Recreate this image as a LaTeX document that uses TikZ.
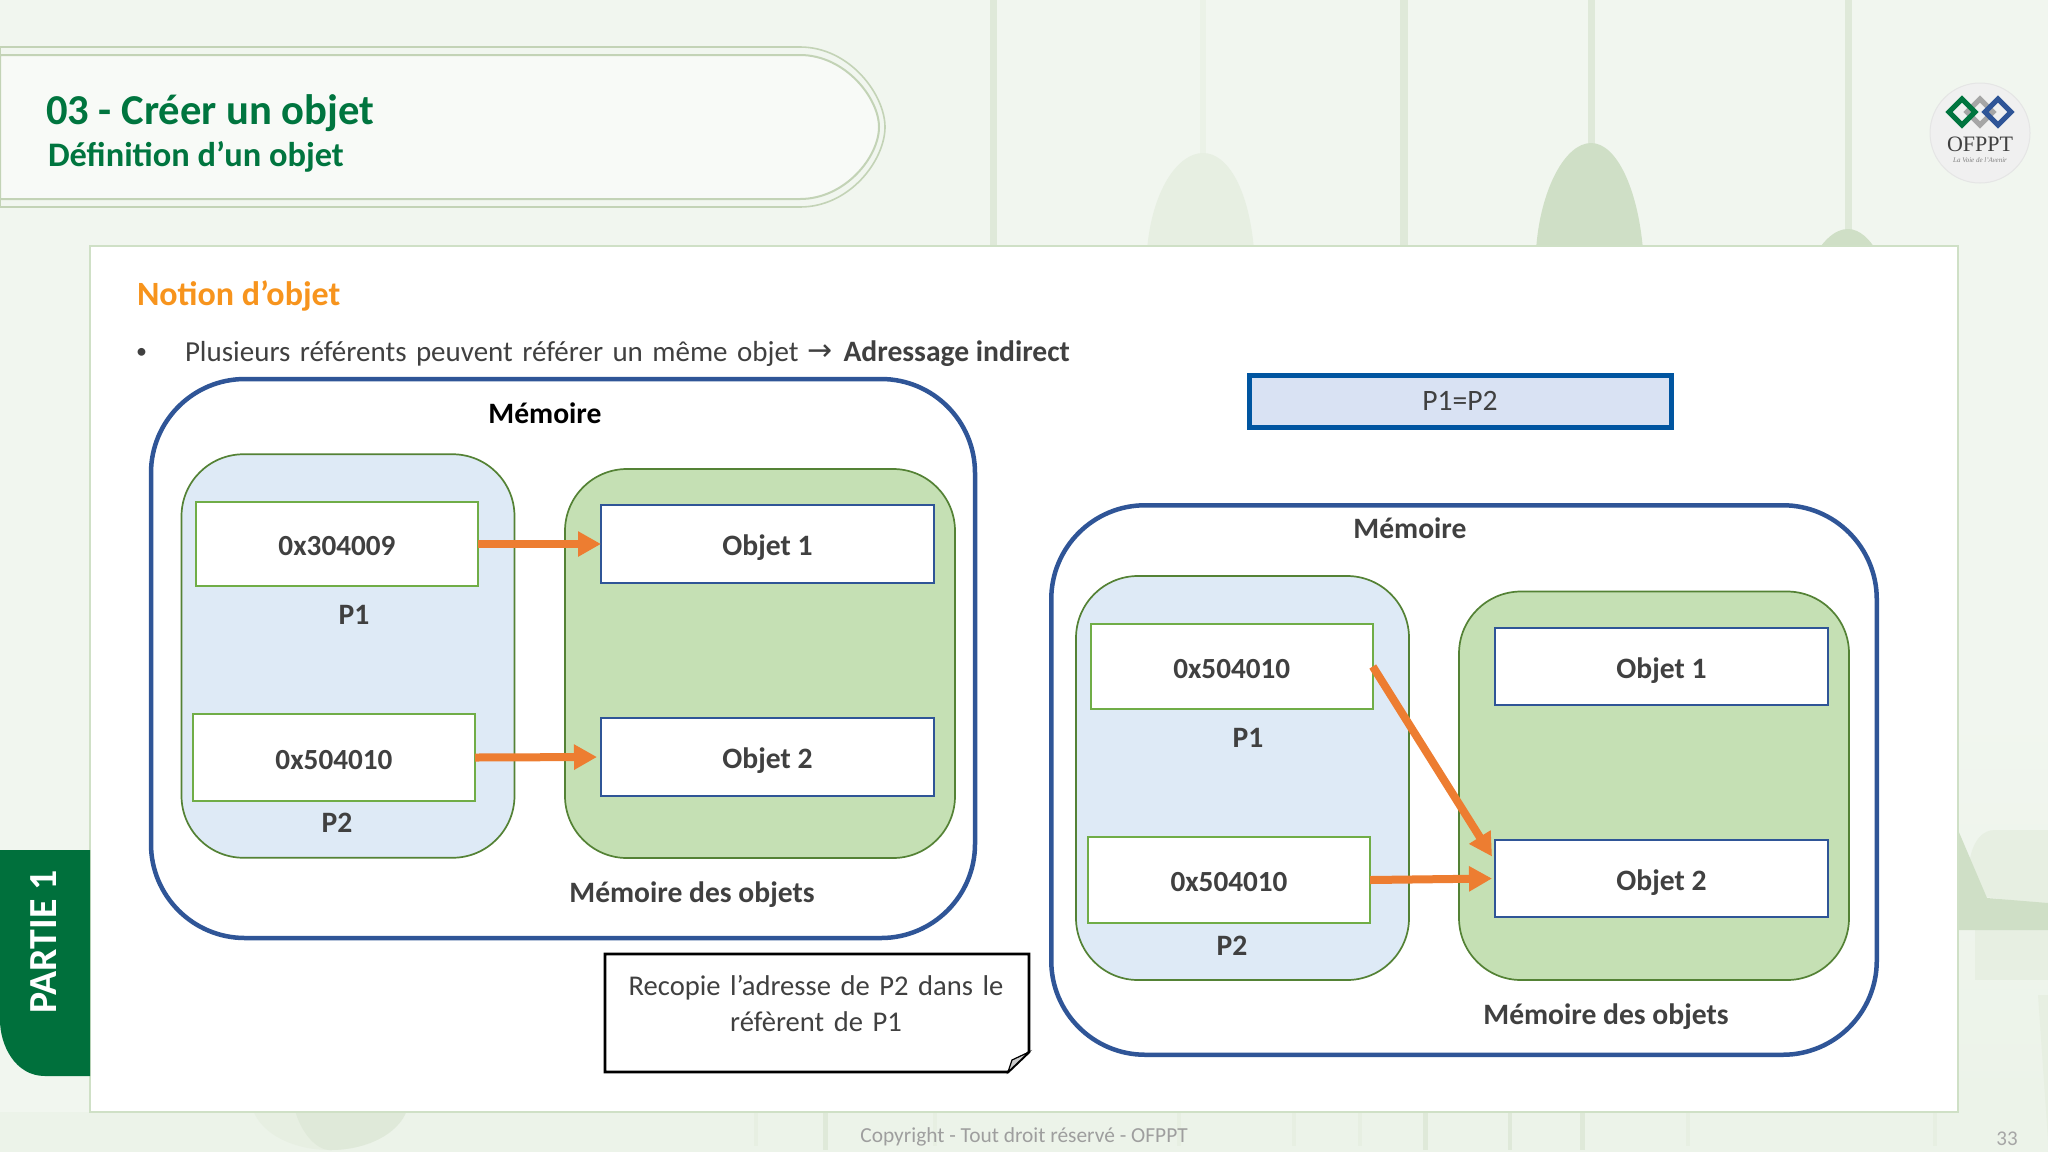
\documentclass[tikz,border=0pt]{standalone}
\usepackage{fontspec}
\setmainfont{Carlito}
\newfontfamily\logofont{Liberation Serif}
\newfontfamily\symfont{DejaVu Sans}
\usetikzlibrary{arrows.meta,shapes.geometric}
\definecolor{bgpage}{HTML}{F1F6EF}
\definecolor{decoA}{HTML}{DFE9D9}
\definecolor{decoB}{HTML}{CFDFC6}
\definecolor{decoC}{HTML}{E7EFE2}
\definecolor{decoD}{HTML}{ECF3E9}
\definecolor{panelline}{HTML}{CFE0C6}
\definecolor{bannerline}{HTML}{C3D3B6}
\definecolor{bannerfill}{HTML}{F8FAF7}
\definecolor{ofgreen}{HTML}{00753F}
\definecolor{ofgreenb}{HTML}{00703C}
\definecolor{ofblue}{HTML}{2F5597}
\definecolor{boxgreen}{HTML}{548235}
\definecolor{lightgreen}{HTML}{70AD47}
\definecolor{fillblue}{HTML}{DEEAF6}
\definecolor{fillgreen}{HTML}{C5E0B4}
\definecolor{txt}{HTML}{404040}
\definecolor{arrowor}{HTML}{ED7D31}
\definecolor{titleor}{HTML}{F7941D}
\definecolor{eqfill}{HTML}{D9E2F3}
\definecolor{eqline}{HTML}{0055A0}
\newcommand{\px}[1]{\fontsize{#1}{#1}\selectfont}
\tikzset{
  every node/.style={inner sep=0pt,outer sep=0pt,text=txt},
  memoire/.style={draw=ofblue,line width=2.25pt,fill=white,rounded corners=47pt,rectangle},
  zoneblue/.style={draw=boxgreen,line width=0.85pt,fill=fillblue,rounded corners=31pt,rectangle},
  zonegreen/.style={draw=boxgreen,line width=0.85pt,fill=fillgreen,rounded corners=31pt,rectangle},
  refbox/.style={draw=lightgreen,line width=0.9pt,fill=white,rectangle,minimum width=141pt,text height=11.5pt,text depth=0pt,font=\px{14.6}\bfseries},
  objbox/.style={draw=ofblue,line width=0.9pt,fill=white,rectangle,minimum width=166.5pt,text height=11.5pt,text depth=0pt,font=\px{14.8}\bfseries},
  lab/.style={font=\px{14.8}\bfseries},
  fleche/.style={draw=arrowor,line width=4pt,-{Triangle[width=12pt,length=11.5pt]}},
}
\begin{document}
\begin{tikzpicture}[x=0.5pt,y=-0.5pt]
\useasboundingbox (0,0) rectangle (2048,1152);
\fill[bgpage] (0,0) rectangle (2048,1152);
% background decoration
\fill[decoA] (990,0) rectangle (997,250);
\fill[decoA] (1400,0) rectangle (1408,250);
\fill[decoC!60!bgpage] (1200,0) rectangle (1206,200);
\fill[decoA] (1587.5,0) rectangle (1594.5,150);
\fill[decoA] (1845,0) rectangle (1852,235);
\fill[decoC] (1147,250) .. controls (1152,190) and (1178,153) .. (1203,153) .. controls (1228,153) and (1249,190) .. (1254,250) -- cycle;
\fill[decoB] (1536,250) .. controls (1540,190) and (1565,143) .. (1591,143) .. controls (1617,143) and (1638,190) .. (1643,250) -- cycle;
\fill[decoB] (1818,250) .. controls (1825,240) and (1835,229) .. (1848,229) .. controls (1860,229) and (1870,240) .. (1876,250) -- cycle;
\fill[decoD] (0,1112) rectangle (2048,1152);
\shade[top color=bgpage,bottom color=decoD] (1958,700) rectangle (2048,1112);
\fill[decoC] (253,1110) .. controls (262,1135) and (295,1150) .. (330,1150) .. controls (365,1150) and (398,1135) .. (407,1110) -- cycle;
\fill[decoA] (295,1110) .. controls (300,1130) and (315,1150) .. (330,1150) .. controls (365,1150) and (398,1135) .. (407,1110) -- cycle;
\foreach \xa/\xb in {754/758,933/937,1177/1181,1292/1296,1358/1362,1686/1690,1933/1937}{
  \fill[decoC] (\xa,1110) rectangle (\xb,1146);
}
\foreach \xa/\xb in {823/828,1423/1428,1508/1512,1580/1585}{
  \fill[decoA] (\xa,1110) rectangle (\xb,1150);
}
\fill[decoC] (1975,930) rectangle (2048,980);
\fill[decoC] (1970,895) .. controls (1965,870) and (1970,830) .. (1995,830) -- (2048,830) -- (2048,905) -- cycle;
\fill[decoB] (1958,830) -- (1987,898) -- (2048,903) -- (2048,930) -- (1958,930) -- cycle;
\fill[decoC] (2038,995) -- (2048,995) -- (2048,1140) -- cycle;
% banner
\path[draw=bannerline,line width=0.8pt,fill=bgpage] (0,47) -- (800,47) .. controls (850,47) and (885,95) .. (885,127) .. controls (885,160) and (850,207) .. (800,207) -- (0,207) -- cycle;
\path[draw=bannerline,line width=1pt,fill=bannerfill] (0,55) -- (800,55) .. controls (845,55) and (879,98) .. (879,127) .. controls (879,157) and (845,199) .. (800,199) -- (0,199) -- cycle;
\node[anchor=base west,text=ofgreen,font=\px{21.3}\bfseries] (titre) at (46,124) {03 - Créer un objet};
\node[anchor=base west,text=ofgreen,font=\px{17.2}\bfseries] (soustitre) at (48,166) {Définition d’un objet};
% logo
\fill[white!88!gray] (1980,133) circle (50);
\draw[white!80!gray,line width=0.5pt] (1980,133) circle (50);
\foreach \cx/\cc in {1980/gray!70,1962/ofgreen,1998/ofblue}{
  \draw[\cc,line width=2.6pt] (\cx-13,112) -- (\cx,99) -- (\cx+13,112) -- (\cx,125) -- cycle;
}
\node[text=black!75,font=\logofont\px{11}] (logotxt) at (1980,144) {OFPPT};
\node[text=gray,font=\logofont\itshape\px{3.5}] (logosub) at (1980,160) {La Voie de l’Avenir};
% panel
\draw[panelline,line width=0.9pt,fill=white] (90,246) rectangle (1958,1112);
% partie tab
\path[fill=ofgreenb] (0,850) -- (90,850) -- (90,1076) -- (45,1076) .. controls (15,1076) and (0,1045) .. (0,1020) -- cycle;
\node[rotate=90,text=white,font=\px{19.9}\bfseries] (partie) at (44,942) {PARTIE 1};
% headings
\node[anchor=base west,text=titleor,font=\px{17}\bfseries] (notion) at (137,305) {Notion d’objet};
\node[anchor=base west,font=\px{11}] (bullet) at (136,358) {•};
\node[anchor=base west,font=\px{14.5}] (phrase) at (185,361) {\spaceskip=1.44\fontdimen2\font\relax Plusieurs référents peuvent référer un même objet};
\node[anchor=base west,font=\symfont\px{15}] (fl) at (807,360) {→};
\node[anchor=base east,font=\px{14.8}\bfseries] (adr) at (1070,361) {Adressage indirect};
% left diagram
\node[memoire,minimum width=412pt,minimum height=279.5pt] (memL) at (563,658.5) {};
\node[zoneblue,minimum width=166.5pt,minimum height=201.75pt] (refL) at (348,656) {};
\node[zonegreen,minimum width=195pt,minimum height=194.5pt] (objL) at (760,663.5) {};
\node[refbox,minimum height=42.25pt] (p1L) at (337,544) {0x304009};
\node[refbox,minimum height=43.5pt] (p2L) at (334,757.5) {0x504010};
\node[objbox,minimum height=38.75pt] (o1L) at (767.5,544) {Objet 1};
\node[objbox,minimum height=39pt] (o2L) at (767.5,757) {Objet 2};
\node[lab,text=black] (memTL) at (545,413) {Mémoire};
\node[lab] (lp1L) at (354,615) {P1};
\node[lab] (lp2L) at (337,823) {P2};
\node[lab] (lmoL) at (692,895) {Mémoire des objets};
\draw[fleche] (p1L.east) -- (o1L.west);
\draw[fleche] (p2L.east) -- ([xshift=-2pt]o2L.west);
% equal box
\node[draw=eqline,line width=2.5pt,fill=eqfill,rectangle,minimum width=211pt,minimum height=26pt,font=\px{14.8}] (egal) at (1460,401) {P1=P2};
% note
\path[draw=black,line width=1.3pt,fill=white] (605,954) -- (1029,954) -- (1029,1052) -- (1008,1072) -- (605,1072) -- cycle;
\path[draw=black,line width=0.6pt,fill=black!20] (1029,1052) -- (1012,1060) -- (1008,1072) -- cycle;
\node[font=\px{14.3},align=center,text width=210pt] (note) at (816,1004) {Recopie l’adresse de P2 dans le\\[3.7pt]réfèrent de P1};
% right diagram
\node[memoire,minimum width=412.75pt,minimum height=274.75pt] (memR) at (1464,780) {};
\node[zoneblue,minimum width=166.5pt,minimum height=202pt] (refR) at (1242.5,778) {};
\node[zonegreen,minimum width=195pt,minimum height=194.25pt] (objR) at (1654,785.75) {};
\node[refbox,minimum height=42.5pt] (p1R) at (1231.75,666.5) {0x504010};
\node[refbox,minimum height=43pt] (p2R) at (1229,880) {0x504010};
\node[objbox,minimum height=38.5pt] (o1R) at (1661.5,666.5) {Objet 1};
\node[objbox,minimum height=38.5pt] (o2R) at (1661.5,878.5) {Objet 2};
\node[lab] (memTR) at (1410,528) {Mémoire};
\node[lab] (lp1R) at (1248,738) {P1};
\node[lab] (lp2R) at (1232,946) {P2};
\node[lab] (lmoR) at (1606,1017) {Mémoire des objets};
\draw[fleche] (p1R.east) -- ([shift={(-3,-22)}]o2R.west);
\draw[fleche] (p2R.east) -- ([xshift=-1.5pt]o2R.west);
% footer
\node[text=black!38,font=\px{10.7}] (copy) at (1024,1137) {Copyright - Tout droit réservé - OFPPT};
\node[text=black!35,font=\px{10.5}] (page) at (2007,1139) {33};
\end{tikzpicture}
\end{document}
